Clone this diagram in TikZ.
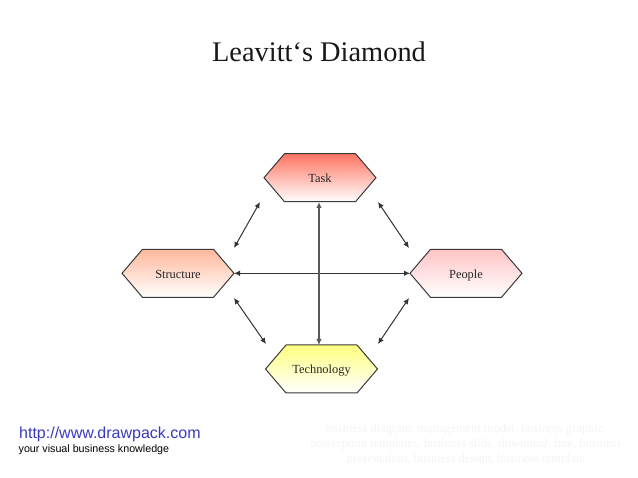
\documentclass[tikz,border=0pt]{standalone}
\usepackage{fontspec}
\setmainfont{Liberation Serif}
\setsansfont{Liberation Sans}
\usetikzlibrary{shapes.symbols,arrows.meta}
\definecolor{linkblue}{HTML}{3A3AC0}
\definecolor{faint}{HTML}{F4F4F4}
\definecolor{edge}{HTML}{3A3A3A}
\definecolor{taskc}{HTML}{FF7462}
\definecolor{structc}{HTML}{FFB89C}
\definecolor{peoplec}{HTML}{FFC4C4}
\definecolor{techc}{HTML}{FFFF80}
\tikzset{
  x=1pt,y=-1pt,
  hexa/.style={shape=signal,signal to=east and west,signal pointer angle=99,
    minimum width=112pt,minimum height=48pt,inner sep=0pt,outer sep=0pt,
    text height=10pt,text depth=0pt,
    draw=edge,line width=1pt,font=\fontsize{12.4}{14}\selectfont,text=black!85},
  link/.style={draw=black!80,line width=1pt,{Latex[length=6pt,width=5.5pt]}-{Latex[length=6pt,width=5.5pt]}},
  thicklink/.style={link,draw=black!65,line width=1.6pt},
}
\begin{document}
\begin{tikzpicture}
\useasboundingbox (0,0) rectangle (638,478);
\fill[white] (0,0) rectangle (638,478);
\node[font=\fontsize{28.4}{32}\selectfont,text=black!90] (title) at (319,52) {Leavitt‘s Diamond};
\node[hexa,top color=taskc,bottom color=white] (task) at (320,177.7) {Task};
\node[hexa,top color=structc,bottom color=white] (structure) at (178,273.3) {Structure};
\node[hexa,top color=peoplec,bottom color=white] (people) at (466,273.3) {People};
\node[hexa,top color=techc,bottom color=white] (technology) at (321.5,369) {Technology};
\coordinate (a1) at (260,202); \coordinate (a2) at (234,248);
\coordinate (b1) at (378,202); \coordinate (b2) at (409,248);
\coordinate (c1) at (234,298); \coordinate (c2) at (266,344);
\coordinate (d1) at (378,344); \coordinate (d2) at (409,298);
\coordinate (v1) at (319,202); \coordinate (v2) at (319,345);
\draw[link] (a1) -- (a2);
\draw[link] (b1) -- (b2);
\draw[link] (c1) -- (c2);
\draw[link] (d1) -- (d2);
\draw[link] (structure.east) -- (people.west);
\draw[thicklink] (v1) -- (v2);
\node[font=\sffamily\fontsize{16}{18}\selectfont,text=linkblue,anchor=west,inner sep=0pt] (url) at (19,434) {http://www.drawpack.com};
\node[font=\sffamily\fontsize{10.7}{13}\selectfont,text=black,anchor=west,inner sep=0pt] (tag) at (18.5,450) {your visual business knowledge};
\node[font=\fontsize{12.4}{15}\selectfont,text=faint,align=center,inner sep=0pt] (keys) at (466,445) {business diagram, management model, business graphic,\\powerpoint templates, business slide, download, free, business\\presentation, business design, business template};
\end{tikzpicture}
\end{document}
